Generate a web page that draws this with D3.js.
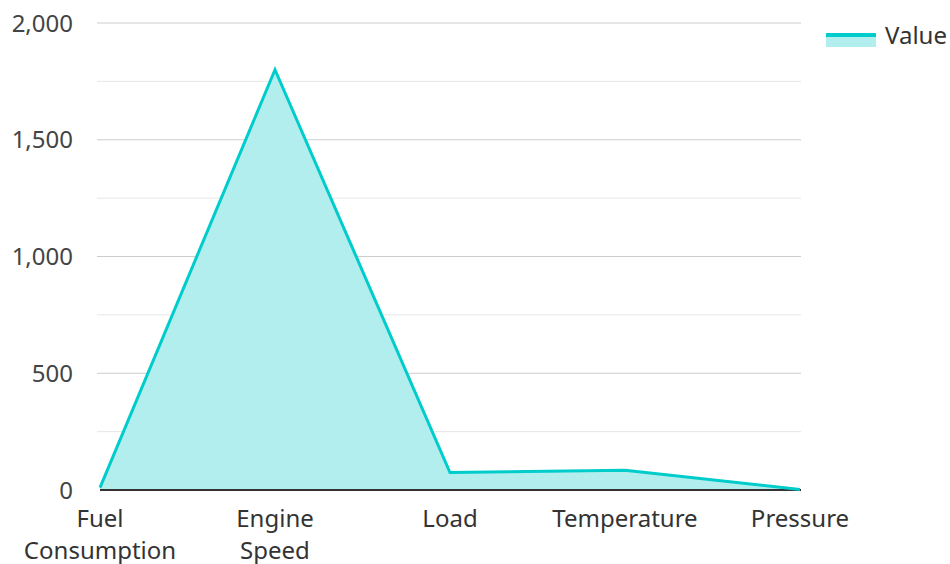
<!DOCTYPE html>
<html><head><meta charset="utf-8">
<script src="https://cdn.jsdelivr.net/npm/d3@7"></script>
<style>body{margin:0;background:#fff;} text{font-family:"Noto Sans",sans-serif;}</style>
</head><body>
<svg id="c" width="950" height="564"></svg>
<script>
const categories = [["Fuel","Consumption"],["Engine","Speed"],["Load"],["Temperature"],["Pressure"]];
const values = [10, 1800, 75, 85, 2];
const yTicks = [0, 500, 1000, 1500, 2000];
const yMinor = [250, 750, 1250, 1750];
const seriesName = "Value";

(function(){
const svg = d3.select("#c");
const mLeft = 100, mRight = 801, mTop = 23, mBottom = 490;
const x = d3.scalePoint().domain(d3.range(values.length)).range([mLeft, mRight - 1]);
const y = d3.scaleLinear().domain([0, 2000]).range([mBottom, mTop]);

const g = svg.append("g");
g.selectAll(".minor").data(yMinor).join("line")
  .attr("x1", 97).attr("x2", mRight).attr("y1", d => y(d)).attr("y2", d => y(d))
  .attr("stroke", "#e6e6e6").attr("stroke-width", 1);
g.selectAll(".major").data(yTicks.filter(d => d > 0)).join("line")
  .attr("x1", 97).attr("x2", mRight).attr("y1", d => y(d)).attr("y2", d => y(d))
  .attr("stroke", "#cccccc").attr("stroke-width", 1);

g.selectAll(".ylab").data(yTicks).join("text")
  .attr("x", 73).attr("y", d => y(d) + 8.5).attr("text-anchor", "end")
  .attr("font-size", 24).attr("fill", "#444").text(d => d3.format(",")(d));

const area = d3.area().x((d, i) => x(i)).y0(y(0)).y1(d => y(d));
const line = d3.line().x((d, i) => x(i)).y(d => y(d));
g.append("path").datum(values).attr("d", area).attr("fill", "#b2eeed");
g.append("line").attr("x1", mLeft).attr("x2", mRight).attr("y1", y(0)).attr("y2", y(0))
  .attr("stroke", "#333").attr("stroke-width", 2);
g.append("path").datum(values).attr("d", line).attr("fill", "none")
  .attr("stroke", "#00cccc").attr("stroke-width", 3).attr("stroke-linejoin", "miter");

categories.forEach((lines, i) => {
  const t = g.append("text").attr("text-anchor", "middle").attr("font-size", 24).attr("fill", "#333");
  lines.forEach((s, j) => t.append("tspan").attr("x", x(i)).attr("y", 527 + j * 32).text(s));
});

// legend
g.append("rect").attr("x", 826).attr("y", 36).attr("width", 50).attr("height", 11).attr("fill", "#b2eeed");
g.append("rect").attr("x", 826).attr("y", 33).attr("width", 50).attr("height", 4).attr("fill", "#00cccc");
g.append("text").attr("x", 885).attr("y", 44).attr("font-size", 24).attr("fill", "#333").text(seriesName);
})();
</script>
</body></html>
